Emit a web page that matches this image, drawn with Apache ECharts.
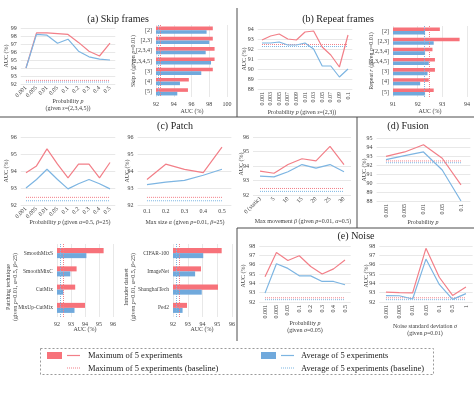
<!DOCTYPE html>
<html><head><meta charset="utf-8">
<script src="https://cdn.jsdelivr.net/npm/echarts@6/dist/echarts.min.js"></script>
<style>html,body{margin:0;padding:0;background:#fff}#c{width:474px;height:394px}</style>
</head><body><div id="c"></div>
<script>
// ---------- DATA ----------
const BASE_MAX = 92.45;
const BASE_AVG = 92.25;

const skipProbCats = ['0.001','0.005','0.01','0.05','0.1','0.2','0.3','0.4','0.5'];
const skipProbMax  = [94.0, 98.4, 98.4, 98.3, 98.2, 97.2, 96.1, 95.5, 97.1];
const skipProbAvg  = [94.0, 98.2, 98.1, 97.1, 97.6, 96.1, 95.4, 95.1, 95.0];

const skipCats = ['[2]','[2,3]','[2,3,4]','[2,3,4,5]','[3]','[4]','[5]'];
const skipMax  = [98.4, 98.4, 98.6, 98.6, 98.4, 95.7, 95.6];
const skipAvg  = [97.7, 98.0, 97.6, 98.2, 97.1, 94.7, 94.4];

const repProbCats = ['0.001','0.003','0.005','0.007','0.009','0.01','0.03','0.05','0.07','0.09','0.1'];
const repProbMax  = [92.9, 93.3, 93.5, 93.0, 92.9, 93.7, 93.8, 92.2, 91.4, 90.2, 93.4];
const repProbAvg  = [92.6, 92.6, 92.7, 92.4, 92.4, 92.6, 92.0, 90.3, 90.3, 89.2, 90.0];

const repCats = ['[2]','[2,3]','[2,3,4]','[2,3,4,5]','[3]','[4]','[5]'];
const repMax  = [92.9, 93.7, 92.6, 92.7, 92.7, 92.45, 92.65];
const repAvg  = [92.3, 92.65, 92.3, 92.45, 92.4, 92.1, 92.3];

const patchProbCats = ['0.001','0.005','0.01','0.05','0.1','0.2','0.3','0.4','0.5'];
const patchProbMax  = [93.9, 94.3, 95.3, 94.4, 93.6, 94.4, 94.4, 93.6, 94.5];
const patchProbAvg  = [93.0, 93.5, 94.1, 93.5, 92.95, 93.25, 93.5, 93.25, 92.95];

const patchSizeCats = ['0.1','0.2','0.3','0.4','0.5'];
const patchSizeMax  = [93.5, 94.4, 94.1, 93.9, 95.4];
const patchSizeAvg  = [93.2, 93.35, 93.45, 93.75, 94.1];

const patchMoveCats = ['0 (static)','5','10','15','20','25','30'];
const patchMoveMax  = [93.65, 93.5, 94.1, 94.5, 94.35, 95.35, 94.1];
const patchMoveAvg  = [93.3, 93.25, 93.6, 94.1, 93.85, 94.1, 93.6];

const techCats = ['SmoothMixS','SmoothMixC','CutMix','MixUp-CutMix'];
const techMax  = [95.33, 93.4, 93.3, 94.0];
const techAvg  = [94.1, 92.95, 92.45, 93.25];

const dataCats = ['CIFAR-100','ImageNet','ShanghaiTech','Ped2'];
const dataMax  = [95.3, 93.9, 95.05, 92.95];
const dataAvg  = [94.05, 93.5, 93.95, 92.65];

const fusionCats = ['0.001','0.005','0.01','0.05','0.1'];
const fusionMax  = [92.95, 93.45, 94.25, 92.75, 89.8];
const fusionAvg  = [92.6, 93.05, 93.45, 91.45, 88.0];

const noiseProbCats = ['0.001','0.005','0.05','0.1','0.2','0.3','0.4','0.5'];
const noiseProbMax  = [94.7, 97.3, 96.45, 96.95, 95.8, 95.0, 95.55, 96.5];
const noiseProbAvg  = [92.95, 96.1, 95.6, 94.8, 94.8, 94.2, 94.2, 93.85];

const noiseStdCats = ['0.001','0.005','0.01','0.05','0.1','0.5','1'];
const noiseStdMax  = [93.05, 93.0, 92.97, 97.75, 94.65, 92.7, 93.6];
const noiseStdAvg  = [92.68, 92.67, 92.32, 96.6, 93.88, 92.28, 92.9];

// ---------- STYLE ----------
const FONT = 'Liberation Serif';
const RED_LINE = '#F27F88', BLUE_LINE = '#7DB5E2';
const RED_BAR = '#F7727A', BLUE_BAR = '#70A9DC';
const GRID_C = '#D9D9D9', TXT = '#404040';
const TICK_FS = 6;

const grids = [], xAxes = [], yAxes = [], series = [];

function lineChart(rect, cats, maxV, avgV, ymin, ymax, rot) {
  const gi = grids.length;
  grids.push({left: rect[0], top: rect[1], width: rect[2], height: rect[3]});
  xAxes.push({gridIndex: gi, type: 'category', data: cats, boundaryGap: true,
    axisLine: {show: false}, axisTick: {show: false}, splitLine: {show: false},
    axisLabel: {interval: 0, rotate: rot, fontSize: TICK_FS, fontFamily: FONT, color: TXT, margin: 3}});
  yAxes.push({gridIndex: gi, type: 'value', min: ymin, max: ymax, interval: 1,
    axisLine: {show: false}, axisTick: {show: false},
    axisLabel: {fontSize: TICK_FS, fontFamily: FONT, color: TXT, margin: 4},
    splitLine: {lineStyle: {color: GRID_C, width: 0.6}}});
  const mk = (data, color, type, w) => ({type: 'line', xAxisIndex: gi, yAxisIndex: gi, data,
    symbol: 'none', silent: true, lineStyle: {color, width: w, type}});
  series.push(mk(cats.map(() => BASE_MAX), RED_LINE, 'dotted', 1));
  series.push(mk(cats.map(() => BASE_AVG), BLUE_LINE, 'dotted', 1));
  series.push(mk(maxV, RED_LINE, 'solid', 1.2));
  series.push(mk(avgV, BLUE_LINE, 'solid', 1.2));
}

function barChart(rect, cats, maxV, avgV, xmin, xmax, interval, catFs, gapPct) {
  const gi = grids.length;
  grids.push({left: rect[0], top: rect[1], width: rect[2], height: rect[3]});
  yAxes.push({gridIndex: gi, type: 'category', data: cats, inverse: true,
    axisLine: {show: false}, axisTick: {show: false}, splitLine: {show: false},
    axisLabel: {interval: 0, fontSize: catFs, fontFamily: FONT, color: TXT, margin: 4}});
  xAxes.push({gridIndex: gi, type: 'value', min: xmin, max: xmax, interval,
    axisLine: {show: false}, axisTick: {show: false},
    axisLabel: {fontSize: TICK_FS, fontFamily: FONT, color: TXT, margin: 4},
    splitLine: {lineStyle: {color: GRID_C, width: 0.6}}});
  series.push({type: 'bar', xAxisIndex: gi, yAxisIndex: gi, data: maxV, silent: true,
    itemStyle: {color: RED_BAR}, barGap: '0%', barCategoryGap: gapPct,
    markLine: {silent: true, symbol: 'none', label: {show: false}, animation: false,
      data: [{xAxis: BASE_MAX, lineStyle: {color: RED_LINE, type: 'dotted', width: 1}},
             {xAxis: BASE_AVG, lineStyle: {color: BLUE_LINE, type: 'dotted', width: 1}}]}});
  series.push({type: 'bar', xAxisIndex: gi, yAxisIndex: gi, data: avgV, silent: true,
    itemStyle: {color: BLUE_BAR}, barGap: '0%', barCategoryGap: gapPct});
}

lineChart([20.75, 28, 94.5, 56], skipProbCats, skipProbMax, skipProbAvg, 92, 99, 45);
barChart([156, 25, 71, 72], skipCats, skipMax, skipAvg, 92, 100, 2, 6, '30%');
lineChart([257.7, 29, 94.6, 60], repProbCats, repProbMax, repProbAvg, 88, 94, 90);
barChart([393, 26, 74, 71], repCats, repMax, repAvg, 91, 94, 1, 6, '30%');
lineChart([20.75, 137, 94.5, 68], patchProbCats, patchProbMax, patchProbAvg, 92, 96, 45);
lineChart([137.6, 137, 93.75, 68], patchSizeCats, patchSizeMax, patchSizeAvg, 92, 96, 0);
lineChart([253, 137, 98, 58], patchMoveCats, patchMoveMax, patchMoveAvg, 92, 96, 45);
lineChart([376.6, 138, 93.75, 63], fusionCats, fusionMax, fusionAvg, 88, 95, 90);
barChart([57, 244, 56, 73], techCats, techMax, techAvg, 92, 96, 1, 5.5, '45%');
barChart([173, 244, 59, 73], dataCats, dataMax, dataAvg, 92, 96, 1, 5.5, '45%');
lineChart([259.3, 246, 91.4, 56], noiseProbCats, noiseProbMax, noiseProbAvg, 92, 98, 90);
lineChart([379.3, 246, 93.3, 56], noiseStdCats, noiseStdMax, noiseStdAvg, 92, 98, 90);

// ---------- TEXT / DECOR ----------
const RICH = {
  n: {fontFamily: FONT, fontSize: 6, fill: TXT},
  i: {fontFamily: FONT, fontSize: 6, fill: TXT, fontStyle: 'italic'}
};
function txt(x, y, text, fs, rot) {
  return {type: 'text', x, y, rotation: rot || 0, silent: true,
    style: {text, fontFamily: FONT, fontSize: fs, fill: '#222', align: 'center', verticalAlign: 'middle'}};
}
function rtxt(x, y, text, rot) {
  return {type: 'text', x, y, rotation: rot || 0, silent: true,
    style: {text, rich: RICH, fontFamily: FONT, fontSize: 6, fill: TXT, align: 'center', verticalAlign: 'middle'}};
}
const R90 = Math.PI / 2;
function ln(x1, y1, x2, y2, color, w, dash) {
  return {type: 'line', silent: true, shape: {x1, y1, x2, y2},
    style: {stroke: color, lineWidth: w, lineDash: dash || null}};
}
const g = [];
// titles
g.push(txt(118, 19, '(a) Skip frames', 10));
g.push(txt(338, 19, '(b) Repeat frames', 10));
g.push(txt(175, 126, '(c) Patch', 10));
g.push(txt(408, 126, '(d) Fusion', 10));
g.push(txt(356, 236, '(e) Noise', 10));
// axis names
g.push(rtxt(6, 56, '{n|AUC (%)}', R90));
g.push(rtxt(68, 101, '{n|Probability }{i|p}'));
g.push(rtxt(68, 108, '{n|(given }{i|s}{n|=(2,3,4,5))}'));
g.push(rtxt(133, 61, '{n|Skip }{i|s}{n| (given }{i|p}{n|=0.01)}', R90));
g.push(rtxt(192, 111, '{n|AUC (%)}'));
g.push(rtxt(244, 59, '{n|AUC (%)}', R90));
g.push(rtxt(302, 112, '{n|Probability }{i|p}{n| (given }{i|s}{n|=(2,3))}'));
g.push(rtxt(371, 61, '{n|Repeat }{i|r}{n| (given }{i|p}{n|=0.01)}', R90));
g.push(rtxt(430, 111, '{n|AUC (%)}'));
g.push(rtxt(6, 171, '{n|AUC (%)}', R90));
g.push(rtxt(70, 222, '{n|Probability }{i|p}{n| (given }{i|α}{n|=0.5, }{i|β}{n|=25)}'));
g.push(rtxt(127, 171, '{n|AUC (%)}', R90));
g.push(rtxt(185, 222, '{n|Max size }{i|α}{n| (given }{i|p}{n|=0.01, }{i|β}{n|=25)}'));
g.push(rtxt(241, 164, '{n|AUC (%)}', R90));
g.push(rtxt(303, 221, '{n|Max movement }{i|β}{n| (given }{i|p}{n|=0.01, }{i|α}{n|=0.5)}'));
g.push(rtxt(364, 170, '{n|AUC (%)}', R90));
g.push(rtxt(423, 222, '{n|Probability }{i|p}'));
g.push(rtxt(8, 287, '{n|Patching technique}', R90));
g.push(rtxt(15, 287, '{n|(given }{i|p}{n|=0.01, }{i|α}{n|=0.5, }{i|β}{n|=25)}', R90));
g.push(rtxt(85, 329, '{n|AUC (%)}'));
g.push(rtxt(126, 287, '{n|Intruder dataset}', R90));
g.push(rtxt(133, 287, '{n|(given }{i|p}{n|=0.01, }{i|α}{n|=0.5, }{i|β}{n|=25)}', R90));
g.push(rtxt(202, 329, '{n|AUC (%)}'));
g.push(rtxt(243, 276, '{n|AUC (%)}', R90));
g.push(rtxt(305, 323, '{n|Probability }{i|p}'));
g.push(rtxt(305, 330, '{n|(given }{i|σ}{n|=0.05)}'));
g.push(rtxt(366, 276, '{n|AUC (%)}', R90));
g.push(rtxt(425, 326, '{n|Noise standard deviation }{i|σ}'));
g.push(rtxt(425, 333, '{n|(given }{i|p}{n|=0.01)}'));
// panel dividers
const DC = '#4d4d4d';
g.push(ln(237, 8, 237, 117, DC, 1));
g.push(ln(0, 117, 474, 117, DC, 1));
g.push(ln(357, 117, 357, 228, DC, 1));
g.push(ln(237, 228, 474, 228, DC, 1));
g.push(ln(237, 228, 237, 341, DC, 1));
// legend
g.push({type: 'rect', silent: true, shape: {x: 40.5, y: 348.5, width: 393, height: 26},
  style: {fill: 'none', stroke: '#9a9a9a', lineWidth: 1, lineDash: [2, 2]}});
g.push({type: 'rect', silent: true, shape: {x: 47, y: 352, width: 15, height: 7}, style: {fill: RED_BAR}});
g.push(ln(67, 355.5, 80, 355.5, RED_LINE, 1.2));
g.push(ln(67, 368, 80, 368, RED_LINE, 1, [1, 1]));
g.push({type: 'rect', silent: true, shape: {x: 261, y: 352, width: 15, height: 7}, style: {fill: BLUE_BAR}});
g.push(ln(281, 355.5, 294, 355.5, BLUE_LINE, 1.2));
g.push(ln(281, 368, 294, 368, BLUE_LINE, 1, [1, 1]));
const legTxt = (x, y, t) => ({type: 'text', x, y, silent: true,
  style: {text: t, fontFamily: FONT, fontSize: 8.5, fill: '#222', align: 'left', verticalAlign: 'middle'}});
g.push(legTxt(88, 356, 'Maximum of 5 experiments'));
g.push(legTxt(88, 368.5, 'Maximum of 5 experiments (baseline)'));
g.push(legTxt(301, 356, 'Average of 5 experiments'));
g.push(legTxt(301, 368.5, 'Average of 5 experiments (baseline)'));

const chart = echarts.init(document.getElementById('c'), null, {renderer: 'canvas'});
chart.setOption({
  animation: false,
  backgroundColor: '#ffffff',
  textStyle: {fontFamily: FONT},
  grid: grids, xAxis: xAxes, yAxis: yAxes, series, graphic: g
});
</script></body></html>
